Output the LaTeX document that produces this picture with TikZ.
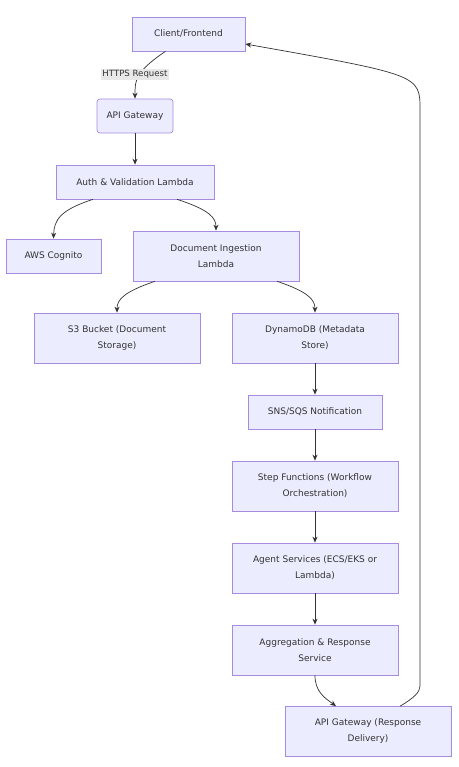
\documentclass[tikz,border=0pt]{standalone}
\usepackage{fontspec}
\setmainfont{DejaVu Sans}
\usetikzlibrary{arrows.meta}
\definecolor{nodefill}{HTML}{ECECFF}
\definecolor{nodeline}{HTML}{A68BE0}
\definecolor{edgecol}{HTML}{333333}
\definecolor{lblbg}{HTML}{E8E8E8}
\begin{document}
\begin{tikzpicture}[x=1pt,y=-1pt,
  box/.style={draw=nodeline,fill=nodefill,line width=0.7pt,text=edgecol,
    font=\fontsize{9}{16}\selectfont,align=center,inner sep=0pt,
    minimum height=34pt},
  tall/.style={box,minimum height=50pt},
  edge/.style={draw=edgecol,line width=0.7pt,-{Stealth[length=6pt,width=5pt]}},
  lbl/.style={fill=lblbg,text=edgecol,font=\fontsize{8.6}{10}\selectfont,inner sep=1.8pt}]
\useasboundingbox (0,0) rectangle (458,767);
\fill[white] (0,0) rectangle (458,767);
\node[box,minimum width=113pt] (client) at (188.5,34) {Client/Frontend};
\node[box,minimum width=76pt,rounded corners=3pt] (apigw) at (135,116) {API Gateway};
\node[box,minimum width=158pt] (auth) at (135,182) {Auth \& Validation Lambda};
\node[box,minimum width=95pt] (cog) at (53.5,256) {AWS Cognito};
\node[tall,minimum width=166pt] (ingest) at (216,256) {Document Ingestion\\Lambda};
\node[tall,minimum width=166pt] (s3) at (117,338) {S3 Bucket (Document\\Storage)};
\node[tall,minimum width=166pt] (dyn) at (315,338) {DynamoDB (Metadata\\Store)};
\node[box,minimum width=134pt] (sns) at (315,412) {SNS/SQS Notification};
\node[tall,minimum width=166pt] (step) at (315,486) {Step Functions (Workflow\\Orchestration)};
\node[tall,minimum width=166pt] (agent) at (315,568) {Agent Services (ECS/EKS or\\Lambda)};
\node[tall,minimum width=166pt] (aggr) at (315,650) {Aggregation \& Response\\Service};
\node[tall,minimum width=166pt] (resp) at (368,731.5) {API Gateway (Response\\Delivery)};

\coordinate (r1) at (420,686);
\coordinate (r2) at (420,110);

\draw[edge] ([xshift=-23pt]client.south) .. controls (135,72) and (135,80) .. (apigw.north);
\node[lbl] (https) at (135,74.5) {HTTPS Request};
\draw[edge] (apigw) -- (auth);
\draw[edge] ([xshift=-42pt]auth.south) .. controls (60,210) and (54,220) .. (cog.north);
\draw[edge] ([xshift=42pt]auth.south) .. controls (210,210) and (216,218) .. (ingest.north);
\draw[edge] ([xshift=-61pt]ingest.south) .. controls (123,292) and (117,300) .. (s3.north);
\draw[edge] ([xshift=61pt]ingest.south) .. controls (309,292) and (315,300) .. (dyn.north);
\draw[edge] (dyn) -- (sns);
\draw[edge] (sns) -- (step);
\draw[edge] (step) -- (agent);
\draw[edge] (agent) -- (aggr);
\draw[edge] (aggr.south) .. controls (315,692) and (325,698) .. ([xshift=-32pt]resp.north);
\draw[edge] ([xshift=32pt]resp.north) .. controls (414,698) and (420,692) .. (r1) -- (r2) .. controls (420,75) .. ([yshift=-10pt]client.east);
\end{tikzpicture}
\end{document}
